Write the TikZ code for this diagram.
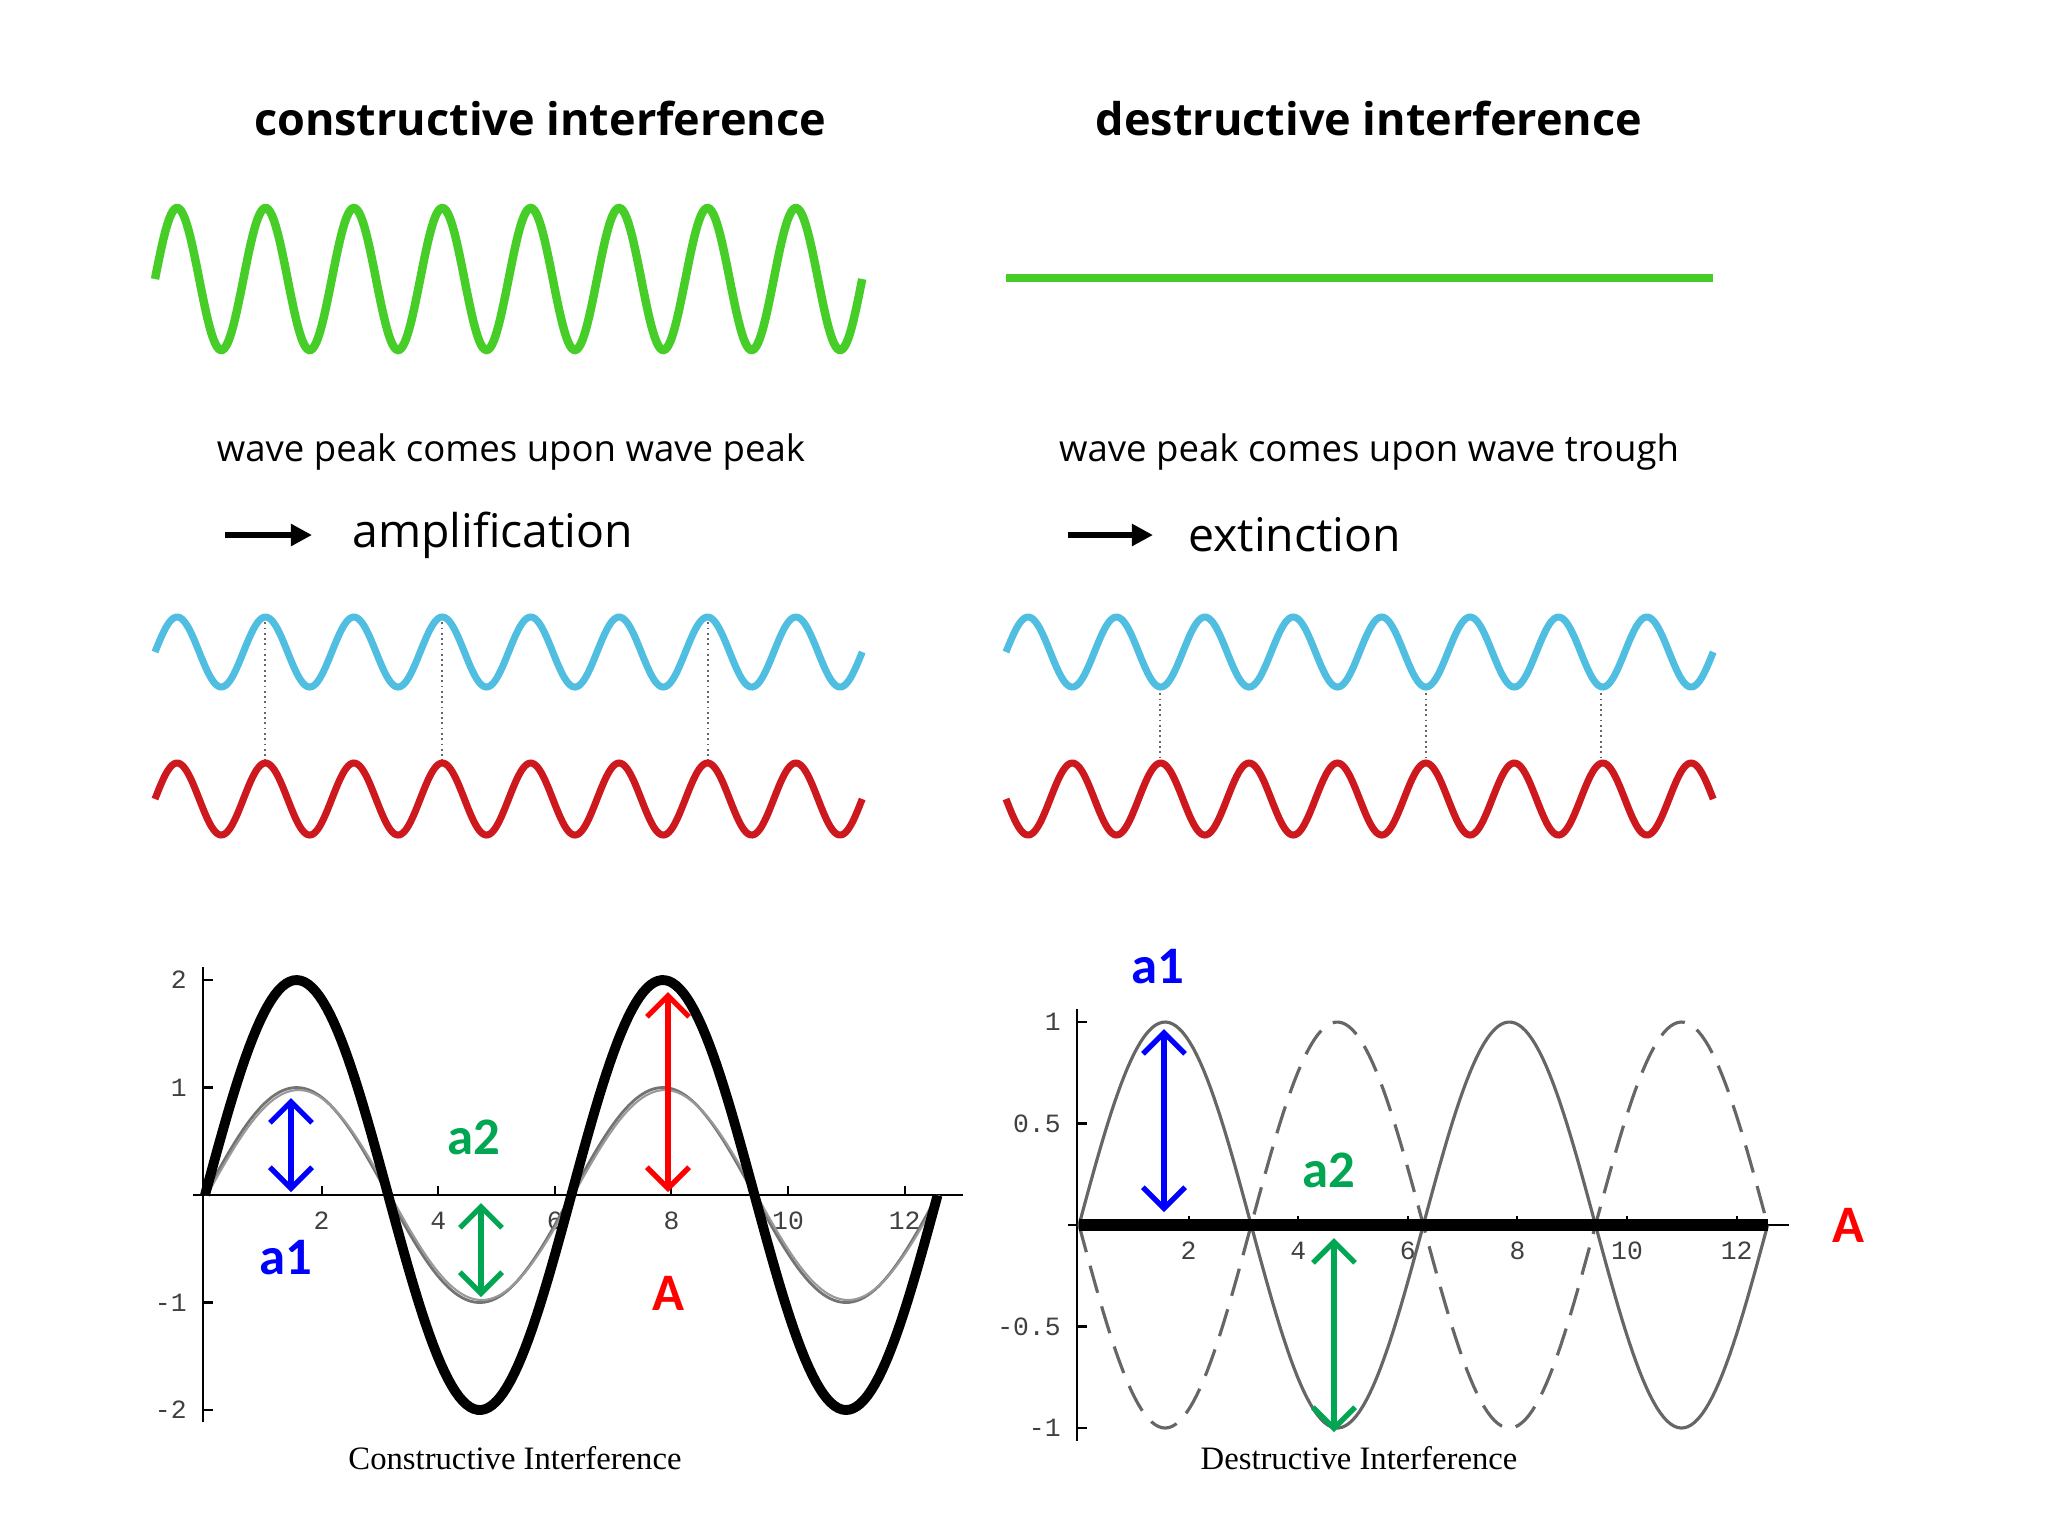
\documentclass[tikz,border=0pt]{standalone}
\usepackage{fontspec}
\setmainfont{Liberation Serif}
\setsansfont{Open Sans}
\setmonofont{Liberation Mono}
\newfontfamily\calib{Carlito}
\usetikzlibrary{arrows.meta}
\begin{document}
\begin{tikzpicture}[x=0.1mm,y=-0.1mm,
  head/.style={font=\sffamily\bfseries\fontsize{12.8}{14}\selectfont},
  sub/.style={font=\sffamily\fontsize{10.4}{12}\selectfont},
  res/.style={font=\sffamily\fontsize{13.2}{15}\selectfont,anchor=west},
  captxt/.style={font=\rmfamily\fontsize{9.3}{11}\selectfont},
  tick/.style={font=\ttfamily\fontsize{7.5}{8}\selectfont,text=black!75},
  lab/.style={font=\calib\bfseries\fontsize{15}{17}\selectfont},
  gw/.style={line width=2.4pt,color={rgb,255:red,70;green,205;blue,40}},
  cw/.style={line width=2pt,color={rgb,255:red,80;green,190;blue,225}},
  rw/.style={line width=2pt,color={rgb,255:red,205;green,25;blue,30}},
  dotl/.style={densely dotted,line width=0.5pt,black!60},
  dbl/.style={{Straight Barb[length=6pt]}-{Straight Barb[length=6pt]},line width=1.5pt},
  blk/.style={-{Triangle[length=6pt,width=6pt]},line width=1.6pt}]
\useasboundingbox (0,0) rectangle (2048,1536);
\fill[white] (0,0) rectangle (2048,1536);
% titles
\node[head] (t1) at (540,118) {constructive interference};
\node[head] (t2) at (1369,118) {destructive interference};
% green
\draw[gw] plot[domain=0:2880,samples=400] ({155+\x/360*88.4},{279-71*sin(\x)});
\coordinate (g1) at (1006,278); \coordinate (g2) at (1713,278);
\draw[gw] (g1) -- (g2);
% subtitles
\node[sub] (s1) at (511,452) {wave peak comes upon wave peak};
\node[sub] (s2) at (1369,452) {wave peak comes upon wave trough};
\coordinate (a1s) at (225,535); \coordinate (a1e) at (312,535);
\coordinate (a2s) at (1068,535); \coordinate (a2e) at (1153,535);
\draw[blk] (a1s) -- (a1e);
\draw[blk] (a2s) -- (a2e);
\node[res] (r1) at (340,535) {amplification};
\node[res] (r2) at (1176,535) {extinction};
% dotted lines
\foreach \xx in {265,442,708}{\draw[dotl] (\xx,617) -- (\xx,763);}
\foreach \xx in {1160,1426,1601}{\draw[dotl] (\xx,688) -- (\xx,763);}
% cyan/red
\draw[cw] plot[domain=0:2880,samples=400] ({155+\x/360*88.4},{652-35*sin(\x)});
\draw[rw] plot[domain=0:2880,samples=400] ({155+\x/360*88.4},{799-36*sin(\x)});
\draw[cw] plot[domain=0:2880,samples=400] ({1006+\x/360*88.4},{652-35*sin(\x)});
\draw[rw] plot[domain=0:2880,samples=400] ({1006+\x/360*88.4},{799+36*sin(\x)});
% left plot
\begin{scope}[shift={(205,1195)}]
 \draw[line width=0.8pt] (-12,0) -- (758,0);
 \draw[line width=0.8pt] (-2,-228) -- (-2,227);
 \foreach \t in {2,4,6,8,10,12}{\draw[line width=0.6pt] ({58.3*\t},0) -- ({58.3*\t},-9);
   \node[tick] (lx\t) at ({58.3*\t},26) {\t};}
 \foreach \v/\l in {1/1,2/2,-1/-1,-2/-2}{\draw[line width=0.6pt] (-2,{-107.5*\v}) -- (8,{-107.5*\v});
   \node[tick,anchor=east] (ly\v) at (-6,{-107.5*\v}) {\l};}
 \draw[black!55,line width=0.8pt] plot[domain=0:12.566,samples=200] ({58.3*\x},{-107.5*sin(\x r)});
 \draw[black!40,line width=0.6pt] plot[domain=0:12.566,samples=200] ({58.3*\x+2},{-105*sin(\x r)});
 \draw[black,line width=2.8pt] plot[domain=0:12.566,samples=200] ({58.3*\x},{-215*sin(\x r)});
\end{scope}
\node[captxt] (c1) at (515,1458) {Constructive Interference};
\coordinate (b1t) at (291,1098); \coordinate (b1b) at (291,1192);
\draw[dbl,blue] (b1t) -- (b1b);
\coordinate (g2t) at (481,1203); \coordinate (g2b) at (481,1297);
\draw[dbl,color={rgb,255:red,0;green,166;blue,81}] (g2t) -- (g2b);
\coordinate (rt) at (668,992); \coordinate (rb) at (668,1192);
\draw[dbl,red] (rt) -- (rb);
\node[lab,blue] (la1) at (286,1258) {a1};
\node[lab,color={rgb,255:red,0;green,166;blue,81}] (la2) at (474,1137) {a2};
\node[lab,red] (lA) at (668,1293) {A};
% right plot
\begin{scope}[shift={(1079,1225)}]
 \draw[line width=0.8pt] (-11,0) -- (710,0);
 \draw[line width=0.8pt] (-2,-216) -- (-2,216);
 \foreach \t in {2,4,6,8,10,12}{\draw[line width=0.6pt] ({54.8*\t},0) -- ({54.8*\t},-9);
   \node[tick] (rx\t) at ({54.8*\t},26) {\t};}
 \foreach \v/\l in {1/1,0.5/0.5,-0.5/-0.5,-1/-1}{\draw[line width=0.6pt] (-2,{-203*\v}) -- (8,{-203*\v});
   \node[tick,anchor=east] (ry\l) at (-6,{-203*\v}) {\l};}
 \draw[black!60,line width=0.9pt] plot[domain=0:12.566,samples=200] ({54.8*\x},{-203*sin(\x r)});
 \draw[black!60,line width=0.9pt,dash pattern=on 8pt off 4pt] plot[domain=0:12.566,samples=200] ({54.8*\x},{203*sin(\x r)});
 \draw[black,line width=3.2pt] (0,0) -- (689,0);
\end{scope}
\node[captxt] (c2) at (1359,1458) {Destructive Interference};
\coordinate (b2t) at (1164,1029); \coordinate (b2b) at (1164,1212);
\draw[dbl,blue] (b2t) -- (b2b);
\coordinate (g3t) at (1334,1238); \coordinate (g3b) at (1334,1432);
\draw[dbl,color={rgb,255:red,0;green,166;blue,81}] (g3t) -- (g3b);
\node[lab,blue] (lb1) at (1158,967) {a1};
\node[lab,color={rgb,255:red,0;green,166;blue,81}] (lb2) at (1329,1170) {a2};
\node[lab,red] (lB) at (1848,1225) {A};
\end{tikzpicture}
\end{document}
